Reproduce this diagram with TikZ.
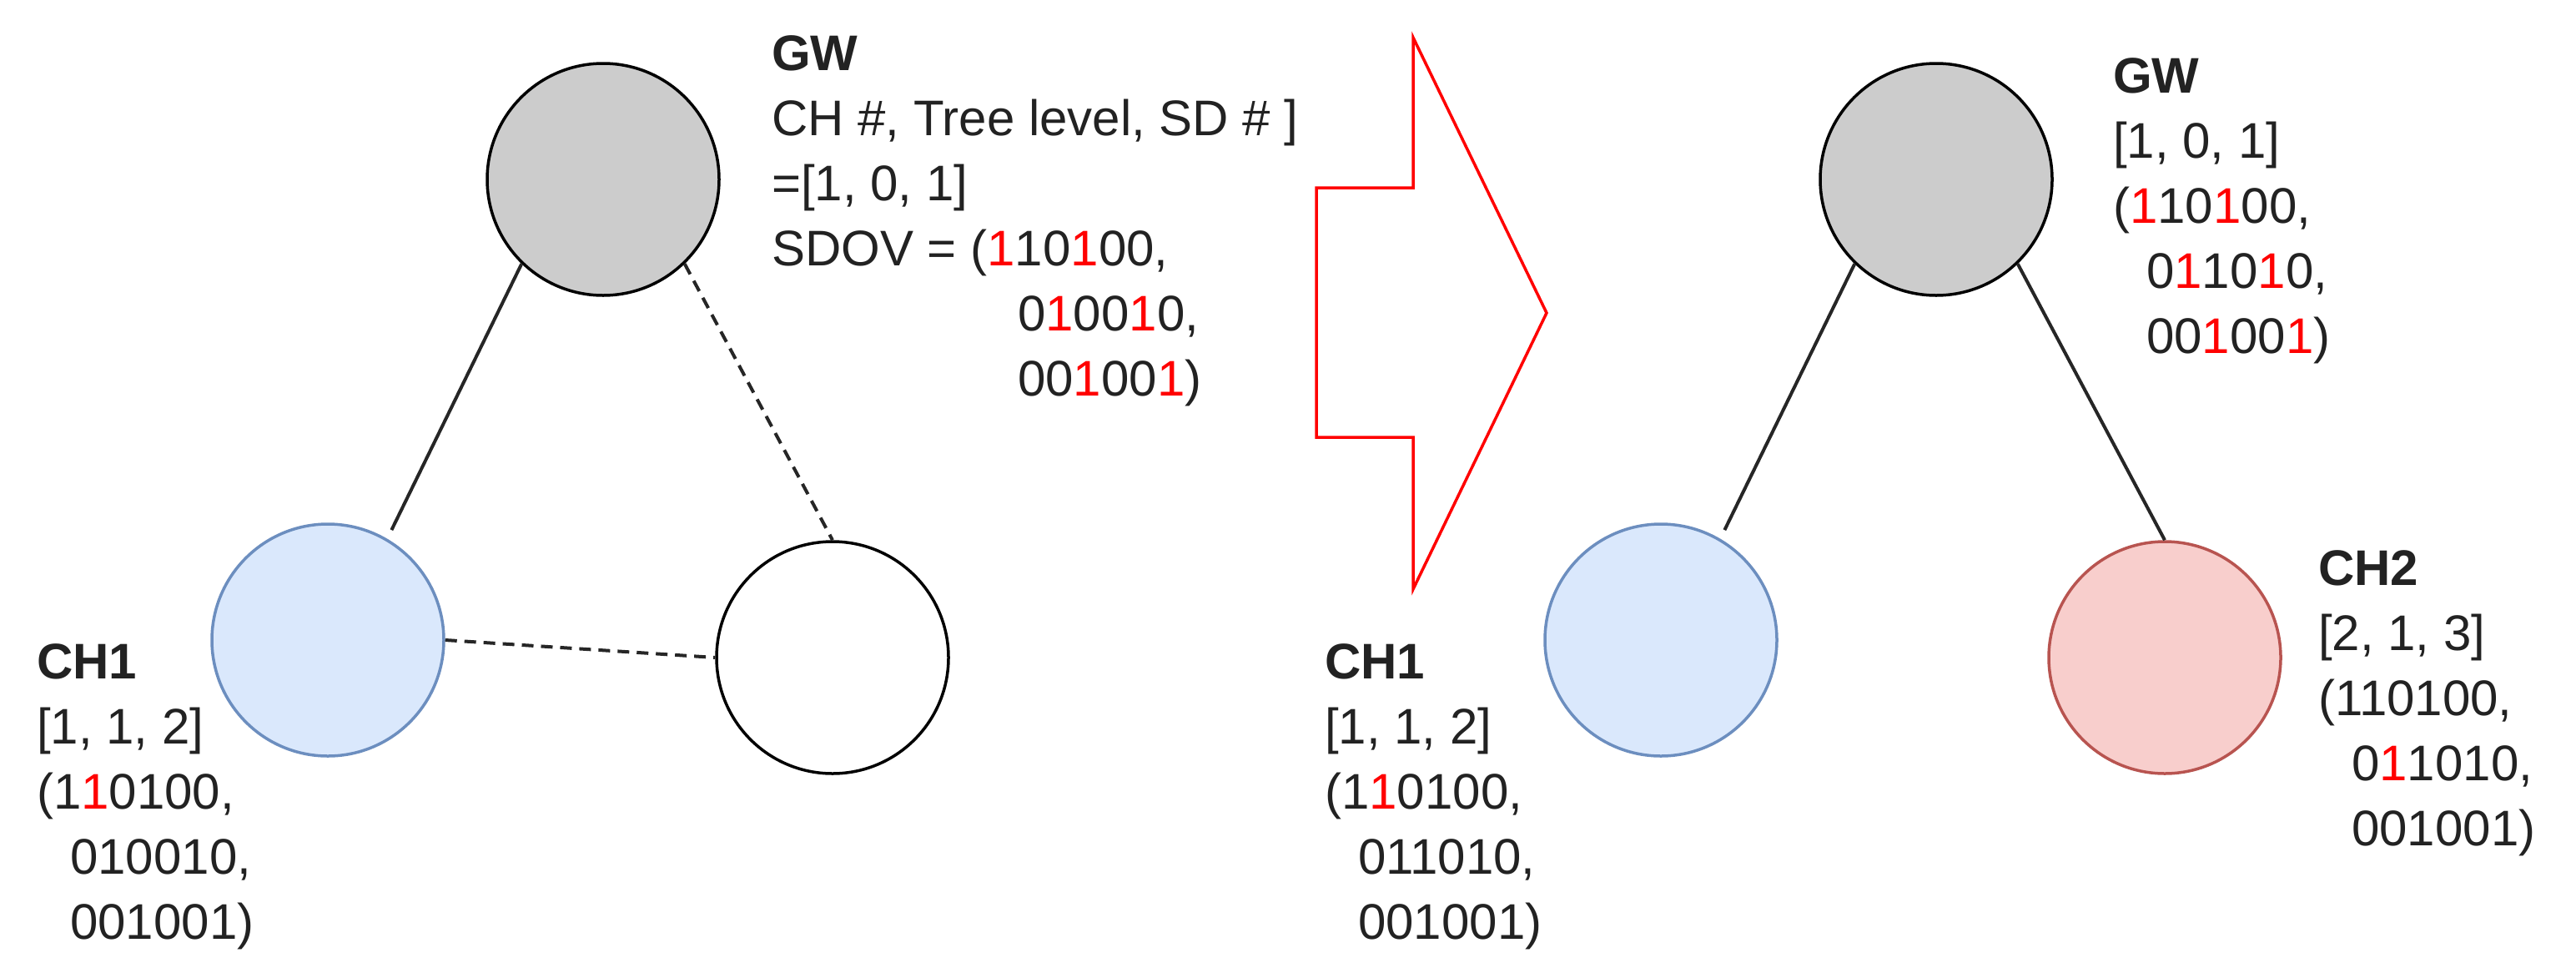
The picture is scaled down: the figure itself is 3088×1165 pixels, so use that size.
\documentclass[tikz,border=0pt]{standalone}
\usepackage{fontspec}
\setmainfont{Liberation Sans}
\usetikzlibrary{calc}
\definecolor{txt}{HTML}{222222}
\definecolor{rd}{HTML}{FF0000}
\definecolor{gwfill}{HTML}{CCCCCC}
\definecolor{bfill}{HTML}{DAE8FC}
\definecolor{bdraw}{HTML}{6C8EBF}
\definecolor{pfill}{HTML}{F8CECC}
\definecolor{pdraw}{HTML}{B85450}
\newcommand{\R}[1]{\textcolor{rd}{#1}}
\begin{document}
\begin{tikzpicture}[x=1pt,y=-1pt,
  nd/.style={circle,minimum size=278pt,inner sep=0pt,line width=3.5pt},
  lbl/.style={anchor=north west,align=left,inner sep=0pt,text=txt,font=\fontsize{60}{78}\selectfont},
  conn/.style={line width=4pt,black!85}]
\useasboundingbox (0,0) rectangle (3088,1165);
% left
\node[nd,draw=black,fill=gwfill] (gw1) at (723,215) {};
\node[nd,draw=bdraw,fill=bfill] (ch1a) at (393,767) {};
\node[nd,draw=black,fill=white] (wn) at (998,788) {};
\draw[conn] (gw1.226) -- ($(ch1a.60)+(6,-10)$) coordinate (c1);
\draw[conn,dash pattern=on 14pt off 9pt] (gw1.-46) -- (wn.north);
\draw[conn,dash pattern=on 14pt off 9pt] (ch1a.east) -- (wn.west);
\node[lbl] (t1) at (925,42) {\textbf{GW}\\CH \#, Tree level, SD \# ]\\=[1, 0, 1]\\SDOV = (\R{1}10\R{1}00,\\\hspace{295pt}0\R{1}00\R{1}0,\\\hspace{295pt}00\R{1}00\R{1})};
\node[lbl] (t2) at (44,771) {\textbf{CH1}\\[0pt] [1, 1, 2]\\(1\R{1}0100,\\\hspace{40pt}010010,\\\hspace{40pt}001001)};
% arrow
\draw[rd,line width=3.5pt,line join=miter] (1694,45) -- (1854,375) -- (1694,706) -- (1694,524) -- (1578,524) -- (1578,225) -- (1694,225) -- cycle;
% right
\node[nd,draw=black,fill=gwfill] (gw2) at (2321,215) {};
\node[nd,draw=bdraw,fill=bfill] (ch1b) at (1991,767) {};
\node[nd,draw=pdraw,fill=pfill] (ch2) at (2595,788) {};
\draw[conn] (gw2.226) -- ($(ch1b.60)+(6,-10)$) coordinate (c2);
\draw[conn] (gw2.-46) -- (ch2.north);
\node[lbl] (t3) at (2533,69) {\textbf{GW}\\[0pt] [1, 0, 1]\\(\R{1}10\R{1}00,\\\hspace{40pt}0\R{1}10\R{1}0,\\\hspace{40pt}00\R{1}00\R{1})};
\node[lbl] (t4) at (1588,771) {\textbf{CH1}\\[0pt] [1, 1, 2]\\(1\R{1}0100,\\\hspace{40pt}011010,\\\hspace{40pt}001001)};
\node[lbl] (t5) at (2779,659) {\textbf{CH2}\\[0pt] [2, 1, 3]\\(110100,\\\hspace{40pt}0\R{1}1010,\\\hspace{40pt}001001)};
\end{tikzpicture}
\end{document}
